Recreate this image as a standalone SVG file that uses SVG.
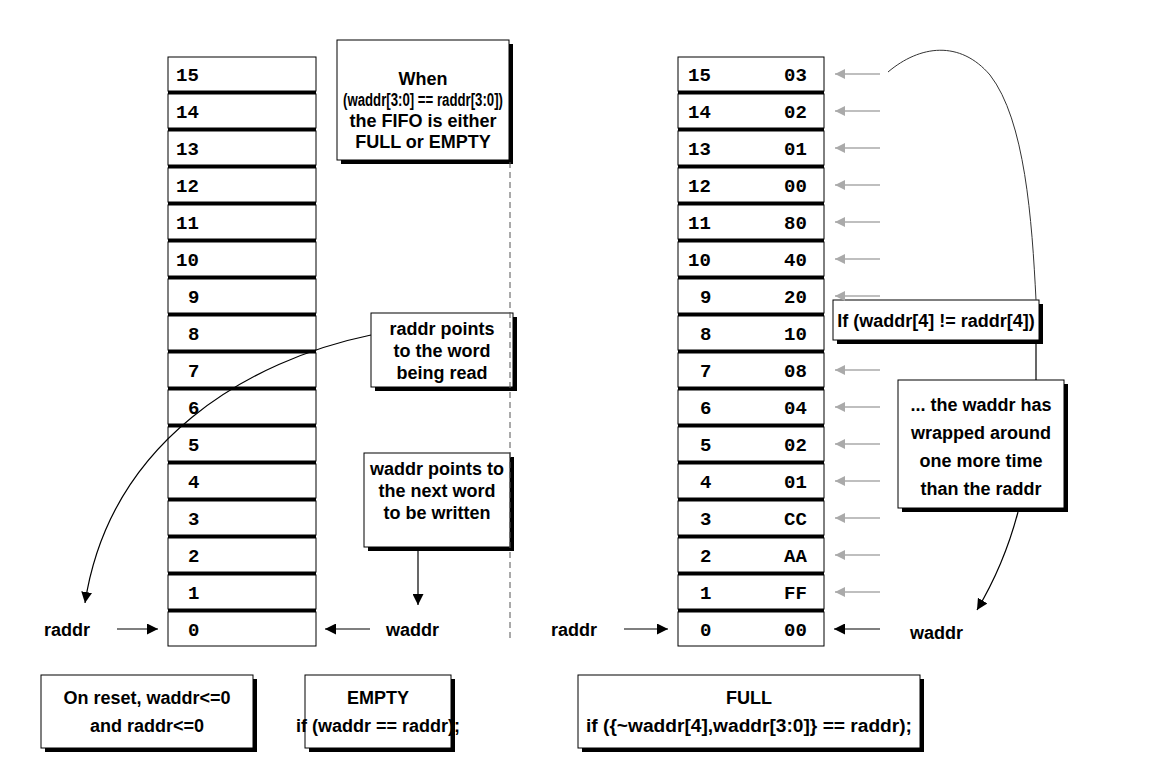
<svg xmlns="http://www.w3.org/2000/svg" width="1149" height="768" viewBox="0 0 1149 768">
<defs>
<style>
.cell{fill:#fff;stroke:#000;stroke-width:1}
.sh{fill:#000}
.num{font-family:"Liberation Mono",monospace;font-size:19px;fill:#000;font-weight:bold}
.t{font-family:"Liberation Sans",Arial,sans-serif;font-size:18px;font-weight:bold;fill:#000;text-anchor:middle}
.lb{font-family:"Liberation Sans",Arial,sans-serif;font-size:18px;font-weight:bold;fill:#000}
.box{fill:#fff;stroke:#000;stroke-width:1}
.g{stroke:#aaa;stroke-width:1.5;fill:none;marker-end:url(#ga)}
.k{stroke:#000;stroke-width:1.2;fill:none;marker-end:url(#ka)}
</style>
<marker id="ka" viewBox="0 0 10 10" refX="10" refY="5" markerWidth="11" markerHeight="11" markerUnits="userSpaceOnUse" orient="auto"><path d="M0,0L10,5L0,10z" fill="#000"/></marker>
<marker id="ga" viewBox="0 0 10 10" refX="10" refY="5" markerWidth="10" markerHeight="10" markerUnits="userSpaceOnUse" orient="auto"><path d="M0,0L10,5L0,10z" fill="#aaa"/></marker>
</defs>
<rect width="1149" height="768" fill="#fff"/>
<g id="left-memory">
<g id="L15"><rect class="cell" x="168" y="57" width="148" height="34"/><rect class="sh" x="168" y="91" width="148" height="3"/><text class="num" x="176" y="81">15</text></g>
<g id="L14"><rect class="cell" x="168" y="94" width="148" height="34"/><rect class="sh" x="168" y="128" width="148" height="3"/><text class="num" x="176" y="118">14</text></g>
<g id="L13"><rect class="cell" x="168" y="131" width="148" height="34"/><rect class="sh" x="168" y="165" width="148" height="3"/><text class="num" x="176" y="155">13</text></g>
<g id="L12"><rect class="cell" x="168" y="168" width="148" height="34"/><rect class="sh" x="168" y="202" width="148" height="3"/><text class="num" x="176" y="192">12</text></g>
<g id="L11"><rect class="cell" x="168" y="205" width="148" height="34"/><rect class="sh" x="168" y="239" width="148" height="3"/><text class="num" x="176" y="229">11</text></g>
<g id="L10"><rect class="cell" x="168" y="242" width="148" height="34"/><rect class="sh" x="168" y="276" width="148" height="3"/><text class="num" x="176" y="266">10</text></g>
<g id="L9"><rect class="cell" x="168" y="279" width="148" height="34"/><rect class="sh" x="168" y="313" width="148" height="3"/><text class="num" x="188" y="303">9</text></g>
<g id="L8"><rect class="cell" x="168" y="316" width="148" height="34"/><rect class="sh" x="168" y="350" width="148" height="3"/><text class="num" x="188" y="340">8</text></g>
<g id="L7"><rect class="cell" x="168" y="353" width="148" height="34"/><rect class="sh" x="168" y="387" width="148" height="3"/><text class="num" x="188" y="377">7</text></g>
<g id="L6"><rect class="cell" x="168" y="390" width="148" height="34"/><rect class="sh" x="168" y="424" width="148" height="3"/><text class="num" x="188" y="414">6</text></g>
<g id="L5"><rect class="cell" x="168" y="427" width="148" height="34"/><rect class="sh" x="168" y="461" width="148" height="3"/><text class="num" x="188" y="451">5</text></g>
<g id="L4"><rect class="cell" x="168" y="464" width="148" height="34"/><rect class="sh" x="168" y="498" width="148" height="3"/><text class="num" x="188" y="488">4</text></g>
<g id="L3"><rect class="cell" x="168" y="501" width="148" height="34"/><rect class="sh" x="168" y="535" width="148" height="3"/><text class="num" x="188" y="525">3</text></g>
<g id="L2"><rect class="cell" x="168" y="538" width="148" height="34"/><rect class="sh" x="168" y="572" width="148" height="3"/><text class="num" x="188" y="562">2</text></g>
<g id="L1"><rect class="cell" x="168" y="575" width="148" height="34"/><rect class="sh" x="168" y="609" width="148" height="3"/><text class="num" x="188" y="599">1</text></g>
<g id="L0"><rect class="cell" x="168" y="612" width="148" height="34"/><text class="num" x="188" y="636">0</text></g>
</g>
<g id="right-memory">
<g id="R15"><rect class="cell" x="678" y="57" width="146" height="34"/><rect class="sh" x="678" y="91" width="146" height="3"/><text class="num" x="688" y="81">15</text><text class="num" x="784" y="81">03</text></g>
<g id="R14"><rect class="cell" x="678" y="94" width="146" height="34"/><rect class="sh" x="678" y="128" width="146" height="3"/><text class="num" x="688" y="118">14</text><text class="num" x="784" y="118">02</text></g>
<g id="R13"><rect class="cell" x="678" y="131" width="146" height="34"/><rect class="sh" x="678" y="165" width="146" height="3"/><text class="num" x="688" y="155">13</text><text class="num" x="784" y="155">01</text></g>
<g id="R12"><rect class="cell" x="678" y="168" width="146" height="34"/><rect class="sh" x="678" y="202" width="146" height="3"/><text class="num" x="688" y="192">12</text><text class="num" x="784" y="192">00</text></g>
<g id="R11"><rect class="cell" x="678" y="205" width="146" height="34"/><rect class="sh" x="678" y="239" width="146" height="3"/><text class="num" x="688" y="229">11</text><text class="num" x="784" y="229">80</text></g>
<g id="R10"><rect class="cell" x="678" y="242" width="146" height="34"/><rect class="sh" x="678" y="276" width="146" height="3"/><text class="num" x="688" y="266">10</text><text class="num" x="784" y="266">40</text></g>
<g id="R9"><rect class="cell" x="678" y="279" width="146" height="34"/><rect class="sh" x="678" y="313" width="146" height="3"/><text class="num" x="700" y="303">9</text><text class="num" x="784" y="303">20</text></g>
<g id="R8"><rect class="cell" x="678" y="316" width="146" height="34"/><rect class="sh" x="678" y="350" width="146" height="3"/><text class="num" x="700" y="340">8</text><text class="num" x="784" y="340">10</text></g>
<g id="R7"><rect class="cell" x="678" y="353" width="146" height="34"/><rect class="sh" x="678" y="387" width="146" height="3"/><text class="num" x="700" y="377">7</text><text class="num" x="784" y="377">08</text></g>
<g id="R6"><rect class="cell" x="678" y="390" width="146" height="34"/><rect class="sh" x="678" y="424" width="146" height="3"/><text class="num" x="700" y="414">6</text><text class="num" x="784" y="414">04</text></g>
<g id="R5"><rect class="cell" x="678" y="427" width="146" height="34"/><rect class="sh" x="678" y="461" width="146" height="3"/><text class="num" x="700" y="451">5</text><text class="num" x="784" y="451">02</text></g>
<g id="R4"><rect class="cell" x="678" y="464" width="146" height="34"/><rect class="sh" x="678" y="498" width="146" height="3"/><text class="num" x="700" y="488">4</text><text class="num" x="784" y="488">01</text></g>
<g id="R3"><rect class="cell" x="678" y="501" width="146" height="34"/><rect class="sh" x="678" y="535" width="146" height="3"/><text class="num" x="700" y="525">3</text><text class="num" x="784" y="525">CC</text></g>
<g id="R2"><rect class="cell" x="678" y="538" width="146" height="34"/><rect class="sh" x="678" y="572" width="146" height="3"/><text class="num" x="700" y="562">2</text><text class="num" x="784" y="562">AA</text></g>
<g id="R1"><rect class="cell" x="678" y="575" width="146" height="34"/><rect class="sh" x="678" y="609" width="146" height="3"/><text class="num" x="700" y="599">1</text><text class="num" x="784" y="599">FF</text></g>
<g id="R0"><rect class="cell" x="678" y="612" width="146" height="34"/><text class="num" x="700" y="636">0</text><text class="num" x="784" y="636">00</text></g>
</g>
<g id="box-when"><rect class="sh" x="341" y="44" width="172" height="120"/><rect class="box" x="337" y="40" width="172" height="120"/>
<text class="t" x="423" y="85">When</text><text class="t" x="423" y="106" font-size="15" textLength="160" lengthAdjust="spacingAndGlyphs">(waddr[3:0] == raddr[3:0])</text><text class="t" x="423" y="127">the FIFO is either</text><text class="t" x="423" y="148">FULL or EMPTY</text></g>
<g id="box-raddr"><rect class="sh" x="375" y="317" width="142" height="74"/><rect class="box" x="371" y="313" width="142" height="74"/>
<text class="t" x="442" y="335">raddr points</text><text class="t" x="442" y="357">to the word</text><text class="t" x="442" y="379">being read</text></g>
<g id="box-waddr"><rect class="sh" x="368" y="457" width="146" height="94"/><rect class="box" x="364" y="453" width="146" height="94"/>
<text class="t" x="437" y="475">waddr points to</text><text class="t" x="437" y="497">the next word</text><text class="t" x="437" y="519">to be written</text></g>
<g id="box-if"><rect class="sh" x="837" y="304" width="206" height="40"/><rect class="box" x="833" y="300" width="206" height="40"/>
<text class="t" x="936" y="327">If (waddr[4] != raddr[4])</text></g>
<g id="box-wrapped"><rect class="sh" x="902" y="384" width="166" height="128"/><rect class="box" x="898" y="380" width="166" height="128"/>
<text class="t" x="981" y="411">...  the waddr has</text><text class="t" x="981" y="439">wrapped around</text><text class="t" x="981" y="467">one more time</text><text class="t" x="981" y="495">than the raddr</text></g>
<g id="box-reset"><rect class="sh" x="45" y="679" width="212" height="73"/><rect class="box" x="41" y="675" width="212" height="73"/>
<text class="t" x="147" y="704">On reset, waddr&lt;=0</text><text class="t" x="147" y="732">and raddr&lt;=0</text></g>
<g id="box-empty"><rect class="sh" x="309" y="679" width="146" height="73"/><rect class="box" x="305" y="675" width="146" height="73"/>
<text class="t" x="378" y="704">EMPTY</text><text class="t" x="378" y="732" font-size="16">if (waddr == raddr);</text></g>
<g id="box-full"><rect class="sh" x="582" y="679" width="342" height="73"/><rect class="box" x="578" y="675" width="342" height="73"/>
<text class="t" x="749" y="704">FULL</text><text class="t" x="749" y="732" textLength="326" lengthAdjust="spacingAndGlyphs">if ({~waddr[4],waddr[3:0]} == raddr);</text></g>
<g id="labels">
<text class="lb" x="44" y="636">raddr</text><text class="lb" x="386" y="636">waddr</text>
<text class="lb" x="551" y="636">raddr</text><text class="lb" x="910" y="639">waddr</text>
</g>
<g id="connectors">
<line x1="510" y1="162" x2="510" y2="640" stroke="#555" stroke-width="1" stroke-dasharray="6,4"/>
<line class="k" x1="117" y1="629" x2="158" y2="629"/>
<line class="k" x1="370" y1="629" x2="325" y2="629"/>
<line class="k" x1="624" y1="629" x2="668" y2="629"/>
<line class="k" x1="880" y1="629" x2="834" y2="629"/>
<line class="k" x1="418" y1="548" x2="418" y2="605"/>
<path class="k" d="M371,335 C250,360 110,440 85,603"/>
<path d="M888,72 C920,45 960,40 990,75 C1025,120 1032,220 1036,300" stroke="#333" stroke-width="1" fill="none"/>
<line x1="1036" y1="340" x2="1036" y2="380" stroke="#000" stroke-width="1.2"/>
<path class="k" d="M1018,512 C1008,550 995,580 977,610"/>
<line class="g" x1="880" y1="74" x2="835" y2="74"/>
<line class="g" x1="880" y1="111" x2="835" y2="111"/>
<line class="g" x1="880" y1="148" x2="835" y2="148"/>
<line class="g" x1="880" y1="185" x2="835" y2="185"/>
<line class="g" x1="880" y1="222" x2="835" y2="222"/>
<line class="g" x1="880" y1="259" x2="835" y2="259"/>
<line class="g" x1="880" y1="296" x2="835" y2="296"/>
<line class="g" x1="880" y1="370" x2="835" y2="370"/>
<line class="g" x1="880" y1="407" x2="835" y2="407"/>
<line class="g" x1="880" y1="444" x2="835" y2="444"/>
<line class="g" x1="880" y1="481" x2="835" y2="481"/>
<line class="g" x1="880" y1="518" x2="835" y2="518"/>
<line class="g" x1="880" y1="555" x2="835" y2="555"/>
<line class="g" x1="880" y1="592" x2="835" y2="592"/>
</g>
</svg>
